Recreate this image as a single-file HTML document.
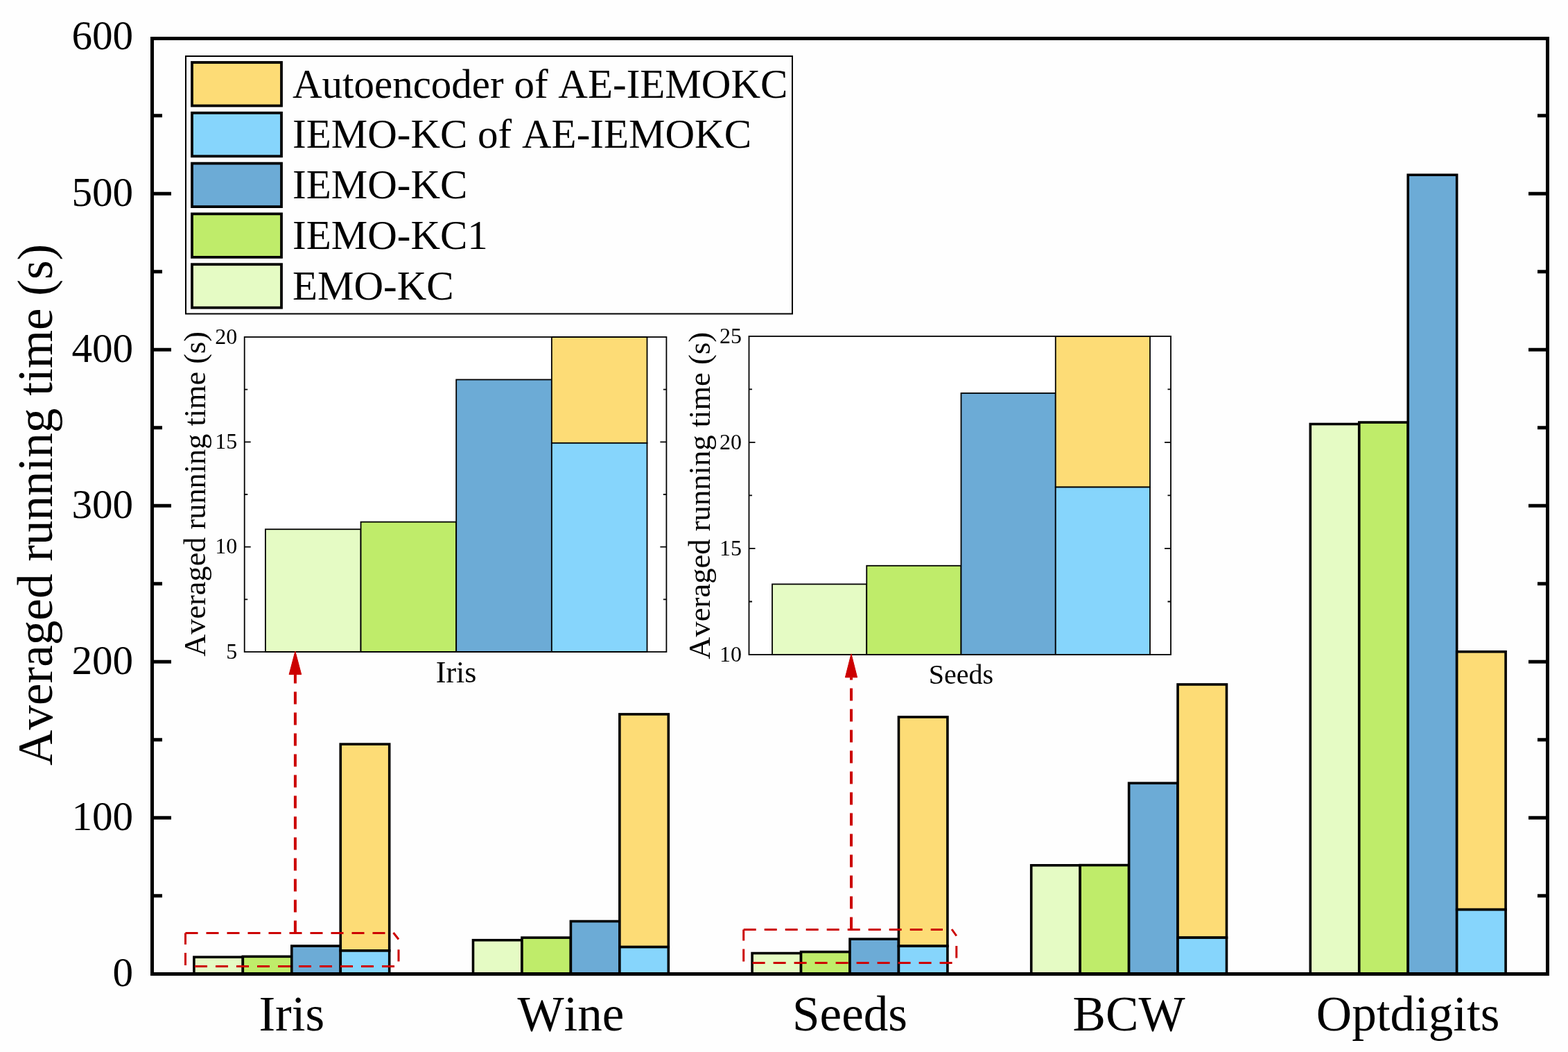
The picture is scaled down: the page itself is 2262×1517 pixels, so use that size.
<!DOCTYPE html>
<html><head><meta charset="utf-8"><title>Averaged running time</title>
<style>html,body{margin:0;padding:0;background:#fefefe;}svg{display:block;}</style>
</head><body>
<svg width="2262" height="1517" viewBox="0 0 2262 1517" font-family="&quot;Liberation Serif&quot;, &quot;Times New Roman&quot;, serif" fill="#000" style="font-kerning:none">
<rect x="0" y="0" width="2262" height="1517" fill="#fefefe"/>
<rect x="279.89" y="1380.13" width="70.45" height="24.37" fill="#E5FBC4" stroke="#000" stroke-width="3.6"/>
<rect x="350.34" y="1379.34" width="70.45" height="25.16" fill="#BFEC6A" stroke="#000" stroke-width="3.6"/>
<rect x="420.80" y="1364.10" width="70.45" height="40.40" fill="#6CABD6" stroke="#000" stroke-width="3.6"/>
<rect x="491.25" y="1073.10" width="70.45" height="297.79" fill="#FDDC76" stroke="#000" stroke-width="3.6"/>
<rect x="491.25" y="1370.89" width="70.45" height="33.61" fill="#86D5FC" stroke="#000" stroke-width="3.6"/>
<rect x="682.49" y="1355.71" width="70.45" height="48.79" fill="#E5FBC4" stroke="#000" stroke-width="3.6"/>
<rect x="752.95" y="1352.11" width="70.45" height="52.39" fill="#BFEC6A" stroke="#000" stroke-width="3.6"/>
<rect x="823.40" y="1328.51" width="70.45" height="75.99" fill="#6CABD6" stroke="#000" stroke-width="3.6"/>
<rect x="893.86" y="1029.93" width="70.45" height="335.68" fill="#FDDC76" stroke="#000" stroke-width="3.6"/>
<rect x="893.86" y="1365.60" width="70.45" height="38.90" fill="#86D5FC" stroke="#000" stroke-width="3.6"/>
<rect x="1085.09" y="1374.55" width="70.45" height="29.95" fill="#E5FBC4" stroke="#000" stroke-width="3.6"/>
<rect x="1155.54" y="1372.60" width="70.45" height="31.90" fill="#BFEC6A" stroke="#000" stroke-width="3.6"/>
<rect x="1226.00" y="1354.14" width="70.45" height="50.36" fill="#6CABD6" stroke="#000" stroke-width="3.6"/>
<rect x="1296.45" y="1033.97" width="70.45" height="330.28" fill="#FDDC76" stroke="#000" stroke-width="3.6"/>
<rect x="1296.45" y="1364.25" width="70.45" height="40.25" fill="#86D5FC" stroke="#000" stroke-width="3.6"/>
<rect x="1487.69" y="1247.79" width="70.45" height="156.71" fill="#E5FBC4" stroke="#000" stroke-width="3.6"/>
<rect x="1558.14" y="1247.57" width="70.45" height="156.93" fill="#BFEC6A" stroke="#000" stroke-width="3.6"/>
<rect x="1628.60" y="1129.30" width="70.45" height="275.20" fill="#6CABD6" stroke="#000" stroke-width="3.6"/>
<rect x="1699.06" y="986.98" width="70.45" height="365.13" fill="#FDDC76" stroke="#000" stroke-width="3.6"/>
<rect x="1699.06" y="1352.11" width="70.45" height="52.39" fill="#86D5FC" stroke="#000" stroke-width="3.6"/>
<rect x="1890.29" y="611.51" width="70.45" height="792.99" fill="#E5FBC4" stroke="#000" stroke-width="3.6"/>
<rect x="1960.74" y="609.04" width="70.45" height="795.46" fill="#BFEC6A" stroke="#000" stroke-width="3.6"/>
<rect x="2031.20" y="252.23" width="70.45" height="1152.27" fill="#6CABD6" stroke="#000" stroke-width="3.6"/>
<rect x="2101.65" y="939.77" width="70.45" height="371.87" fill="#FDDC76" stroke="#000" stroke-width="3.6"/>
<rect x="2101.65" y="1311.64" width="70.45" height="92.86" fill="#86D5FC" stroke="#000" stroke-width="3.6"/>
<rect x="219.5" y="55.5" width="2013.0" height="1349.0" fill="none" stroke="#000" stroke-width="5"/>
<text x="192.20" y="1421.60" font-size="59.2" text-anchor="end">0</text>
<path d="M219.5,1291.79h14.5M2232.5,1291.79h-14.5" stroke="#000" stroke-width="5"/>
<path d="M219.5,1179.28h27.5M2232.5,1179.28h-27.5" stroke="#000" stroke-width="5"/>
<text x="192.20" y="1196.58" font-size="59.2" text-anchor="end">100</text>
<path d="M219.5,1066.77h14.5M2232.5,1066.77h-14.5" stroke="#000" stroke-width="5"/>
<path d="M219.5,954.26h27.5M2232.5,954.26h-27.5" stroke="#000" stroke-width="5"/>
<text x="192.20" y="971.56" font-size="59.2" text-anchor="end">200</text>
<path d="M219.5,841.75h14.5M2232.5,841.75h-14.5" stroke="#000" stroke-width="5"/>
<path d="M219.5,729.24h27.5M2232.5,729.24h-27.5" stroke="#000" stroke-width="5"/>
<text x="192.20" y="746.54" font-size="59.2" text-anchor="end">300</text>
<path d="M219.5,616.73h14.5M2232.5,616.73h-14.5" stroke="#000" stroke-width="5"/>
<path d="M219.5,504.22h27.5M2232.5,504.22h-27.5" stroke="#000" stroke-width="5"/>
<text x="192.20" y="521.52" font-size="59.2" text-anchor="end">400</text>
<path d="M219.5,391.71h14.5M2232.5,391.71h-14.5" stroke="#000" stroke-width="5"/>
<path d="M219.5,279.20h27.5M2232.5,279.20h-27.5" stroke="#000" stroke-width="5"/>
<text x="192.20" y="296.50" font-size="59.2" text-anchor="end">500</text>
<path d="M219.5,166.69h14.5M2232.5,166.69h-14.5" stroke="#000" stroke-width="5"/>
<text x="192.20" y="71.48" font-size="59.2" text-anchor="end">600</text>
<text x="420.80" y="1486.00" font-size="71.1" text-anchor="middle">Iris</text>
<text x="823.40" y="1486.00" font-size="71.1" text-anchor="middle">Wine</text>
<text x="1226.00" y="1486.00" font-size="71.1" text-anchor="middle">Seeds</text>
<text x="1628.60" y="1486.00" font-size="71.1" text-anchor="middle">BCW</text>
<text x="2031.20" y="1486.00" font-size="71.1" text-anchor="middle">Optdigits</text>
<text transform="translate(74.5,727.8) rotate(-90)" x="0" y="0" font-size="71.1" text-anchor="middle">Averaged running time (s)</text>
<rect x="268" y="81" width="875" height="371.5" fill="#fefefe" stroke="#000" stroke-width="2"/>
<rect x="277" y="90.00" width="129" height="62.5" fill="#FDDC76" stroke="#000" stroke-width="3.8"/>
<text x="422.00" y="140.50" font-size="59.0" text-anchor="start">Autoencoder of AE-IEMOKC</text>
<rect x="277" y="162.80" width="129" height="62.5" fill="#86D5FC" stroke="#000" stroke-width="3.8"/>
<text x="422.00" y="213.30" font-size="59.0" text-anchor="start">IEMO-KC of AE-IEMOKC</text>
<rect x="277" y="235.60" width="129" height="62.5" fill="#6CABD6" stroke="#000" stroke-width="3.8"/>
<text x="422.00" y="286.10" font-size="59.0" text-anchor="start">IEMO-KC</text>
<rect x="277" y="308.40" width="129" height="62.5" fill="#BFEC6A" stroke="#000" stroke-width="3.8"/>
<text x="422.00" y="358.90" font-size="59.0" text-anchor="start">IEMO-KC1</text>
<rect x="277" y="381.20" width="129" height="62.5" fill="#E5FBC4" stroke="#000" stroke-width="3.8"/>
<text x="422.00" y="431.70" font-size="59.0" text-anchor="start">EMO-KC</text>
<rect x="352.7" y="486.0" width="608.7" height="454.0" fill="#fff" stroke="none"/>
<rect x="382.90" y="763.24" width="137.65" height="176.76" fill="#E5FBC4" stroke="#000" stroke-width="1.8"/>
<rect x="520.55" y="752.65" width="137.65" height="187.35" fill="#BFEC6A" stroke="#000" stroke-width="1.8"/>
<rect x="658.20" y="547.44" width="137.65" height="392.56" fill="#6CABD6" stroke="#000" stroke-width="1.8"/>
<rect x="795.85" y="486.00" width="137.65" height="152.85" fill="#FDDC76" stroke="#000" stroke-width="1.8"/>
<rect x="795.85" y="638.85" width="137.65" height="301.15" fill="#86D5FC" stroke="#000" stroke-width="1.8"/>
<rect x="352.7" y="486.0" width="608.7" height="454.0" fill="none" stroke="#000" stroke-width="1.8"/>
<text x="342.20" y="949.80" font-size="32" text-anchor="end">5</text>
<path d="M352.7,864.33h4.5M961.4,864.33h-4.5" stroke="#000" stroke-width="1.8"/>
<path d="M352.7,788.67h9M961.4,788.67h-9" stroke="#000" stroke-width="1.8"/>
<text x="342.20" y="798.47" font-size="32" text-anchor="end">10</text>
<path d="M352.7,713.00h4.5M961.4,713.00h-4.5" stroke="#000" stroke-width="1.8"/>
<path d="M352.7,637.33h9M961.4,637.33h-9" stroke="#000" stroke-width="1.8"/>
<text x="342.20" y="647.13" font-size="32" text-anchor="end">15</text>
<path d="M352.7,561.67h4.5M961.4,561.67h-4.5" stroke="#000" stroke-width="1.8"/>
<text x="342.20" y="495.80" font-size="32" text-anchor="end">20</text>
<text x="658.10" y="984.00" font-size="44" text-anchor="middle">Iris</text>
<text transform="translate(295.5,712.40) rotate(-90)" x="0" y="0" font-size="44.3" text-anchor="middle">Averaged running time (s)</text>
<rect x="1080.5" y="484.9" width="608.5" height="459.1" fill="#fff" stroke="none"/>
<rect x="1114.00" y="842.39" width="136.25" height="101.61" fill="#E5FBC4" stroke="#000" stroke-width="1.8"/>
<rect x="1250.25" y="815.76" width="136.25" height="128.24" fill="#BFEC6A" stroke="#000" stroke-width="1.8"/>
<rect x="1386.50" y="566.93" width="136.25" height="377.07" fill="#6CABD6" stroke="#000" stroke-width="1.8"/>
<rect x="1522.75" y="484.90" width="136.25" height="217.61" fill="#FDDC76" stroke="#000" stroke-width="1.8"/>
<rect x="1522.75" y="702.51" width="136.25" height="241.49" fill="#86D5FC" stroke="#000" stroke-width="1.8"/>
<rect x="1080.5" y="484.9" width="608.5" height="459.1" fill="none" stroke="#000" stroke-width="1.8"/>
<text x="1070.00" y="953.80" font-size="32" text-anchor="end">10</text>
<path d="M1080.5,867.48h4.5M1689.0,867.48h-4.5" stroke="#000" stroke-width="1.8"/>
<path d="M1080.5,790.97h9M1689.0,790.97h-9" stroke="#000" stroke-width="1.8"/>
<text x="1070.00" y="800.77" font-size="32" text-anchor="end">15</text>
<path d="M1080.5,714.45h4.5M1689.0,714.45h-4.5" stroke="#000" stroke-width="1.8"/>
<path d="M1080.5,637.93h9M1689.0,637.93h-9" stroke="#000" stroke-width="1.8"/>
<text x="1070.00" y="647.73" font-size="32" text-anchor="end">20</text>
<path d="M1080.5,561.42h4.5M1689.0,561.42h-4.5" stroke="#000" stroke-width="1.8"/>
<text x="1070.00" y="494.70" font-size="32" text-anchor="end">25</text>
<text x="1386.50" y="985.50" font-size="40" text-anchor="middle">Seeds</text>
<text transform="translate(1023.5,714.80) rotate(-90)" x="0" y="0" font-size="44.6" text-anchor="middle">Averaged running time (s)</text>
<path d="M267.5,1345.5H555.5" fill="none" stroke="#CC0000" stroke-width="3" stroke-dasharray="18 12" stroke-dashoffset="0"/>
<path d="M567.5,1345.0L575.0,1354.5" fill="none" stroke="#CC0000" stroke-width="3"/>
<path d="M575.0,1369.3V1386.4" fill="none" stroke="#CC0000" stroke-width="3"/>
<path d="M569.0,1393.5H280.0" fill="none" stroke="#CC0000" stroke-width="3" stroke-dasharray="18 12" stroke-dashoffset="0"/>
<path d="M267.5,1392.0V1345.5" fill="none" stroke="#CC0000" stroke-width="3" stroke-dasharray="18 12" stroke-dashoffset="0"/>
<path d="M425.9,1345.5V972.6" fill="none" stroke="#CC0000" stroke-width="4" stroke-dasharray="18 12" stroke-dashoffset="0"/>
<path d="M425.9,939.2L434.69999999999993,972.6L417.1,972.6Z" fill="#CC0000" stroke="#CC0000" stroke-width="1" stroke-linejoin="round"/>
<path d="M1072.7,1340.5H1360.0" fill="none" stroke="#CC0000" stroke-width="3" stroke-dasharray="18 12" stroke-dashoffset="0"/>
<path d="M1373.0,1340.0L1379.8,1349.5" fill="none" stroke="#CC0000" stroke-width="3"/>
<path d="M1379.8,1364.0V1381.5" fill="none" stroke="#CC0000" stroke-width="3"/>
<path d="M1373.6,1388.6H1084.8" fill="none" stroke="#CC0000" stroke-width="3" stroke-dasharray="18 12" stroke-dashoffset="0"/>
<path d="M1072.7,1386.5V1340.5" fill="none" stroke="#CC0000" stroke-width="3" stroke-dasharray="18 12" stroke-dashoffset="0"/>
<path d="M1228.0,1340.5V976.8" fill="none" stroke="#CC0000" stroke-width="4" stroke-dasharray="18 12" stroke-dashoffset="0"/>
<path d="M1228.0,942.9L1236.6000000000001,976.8L1219.3999999999999,976.8Z" fill="#CC0000" stroke="#CC0000" stroke-width="1" stroke-linejoin="round"/>
</svg>
</body></html>
